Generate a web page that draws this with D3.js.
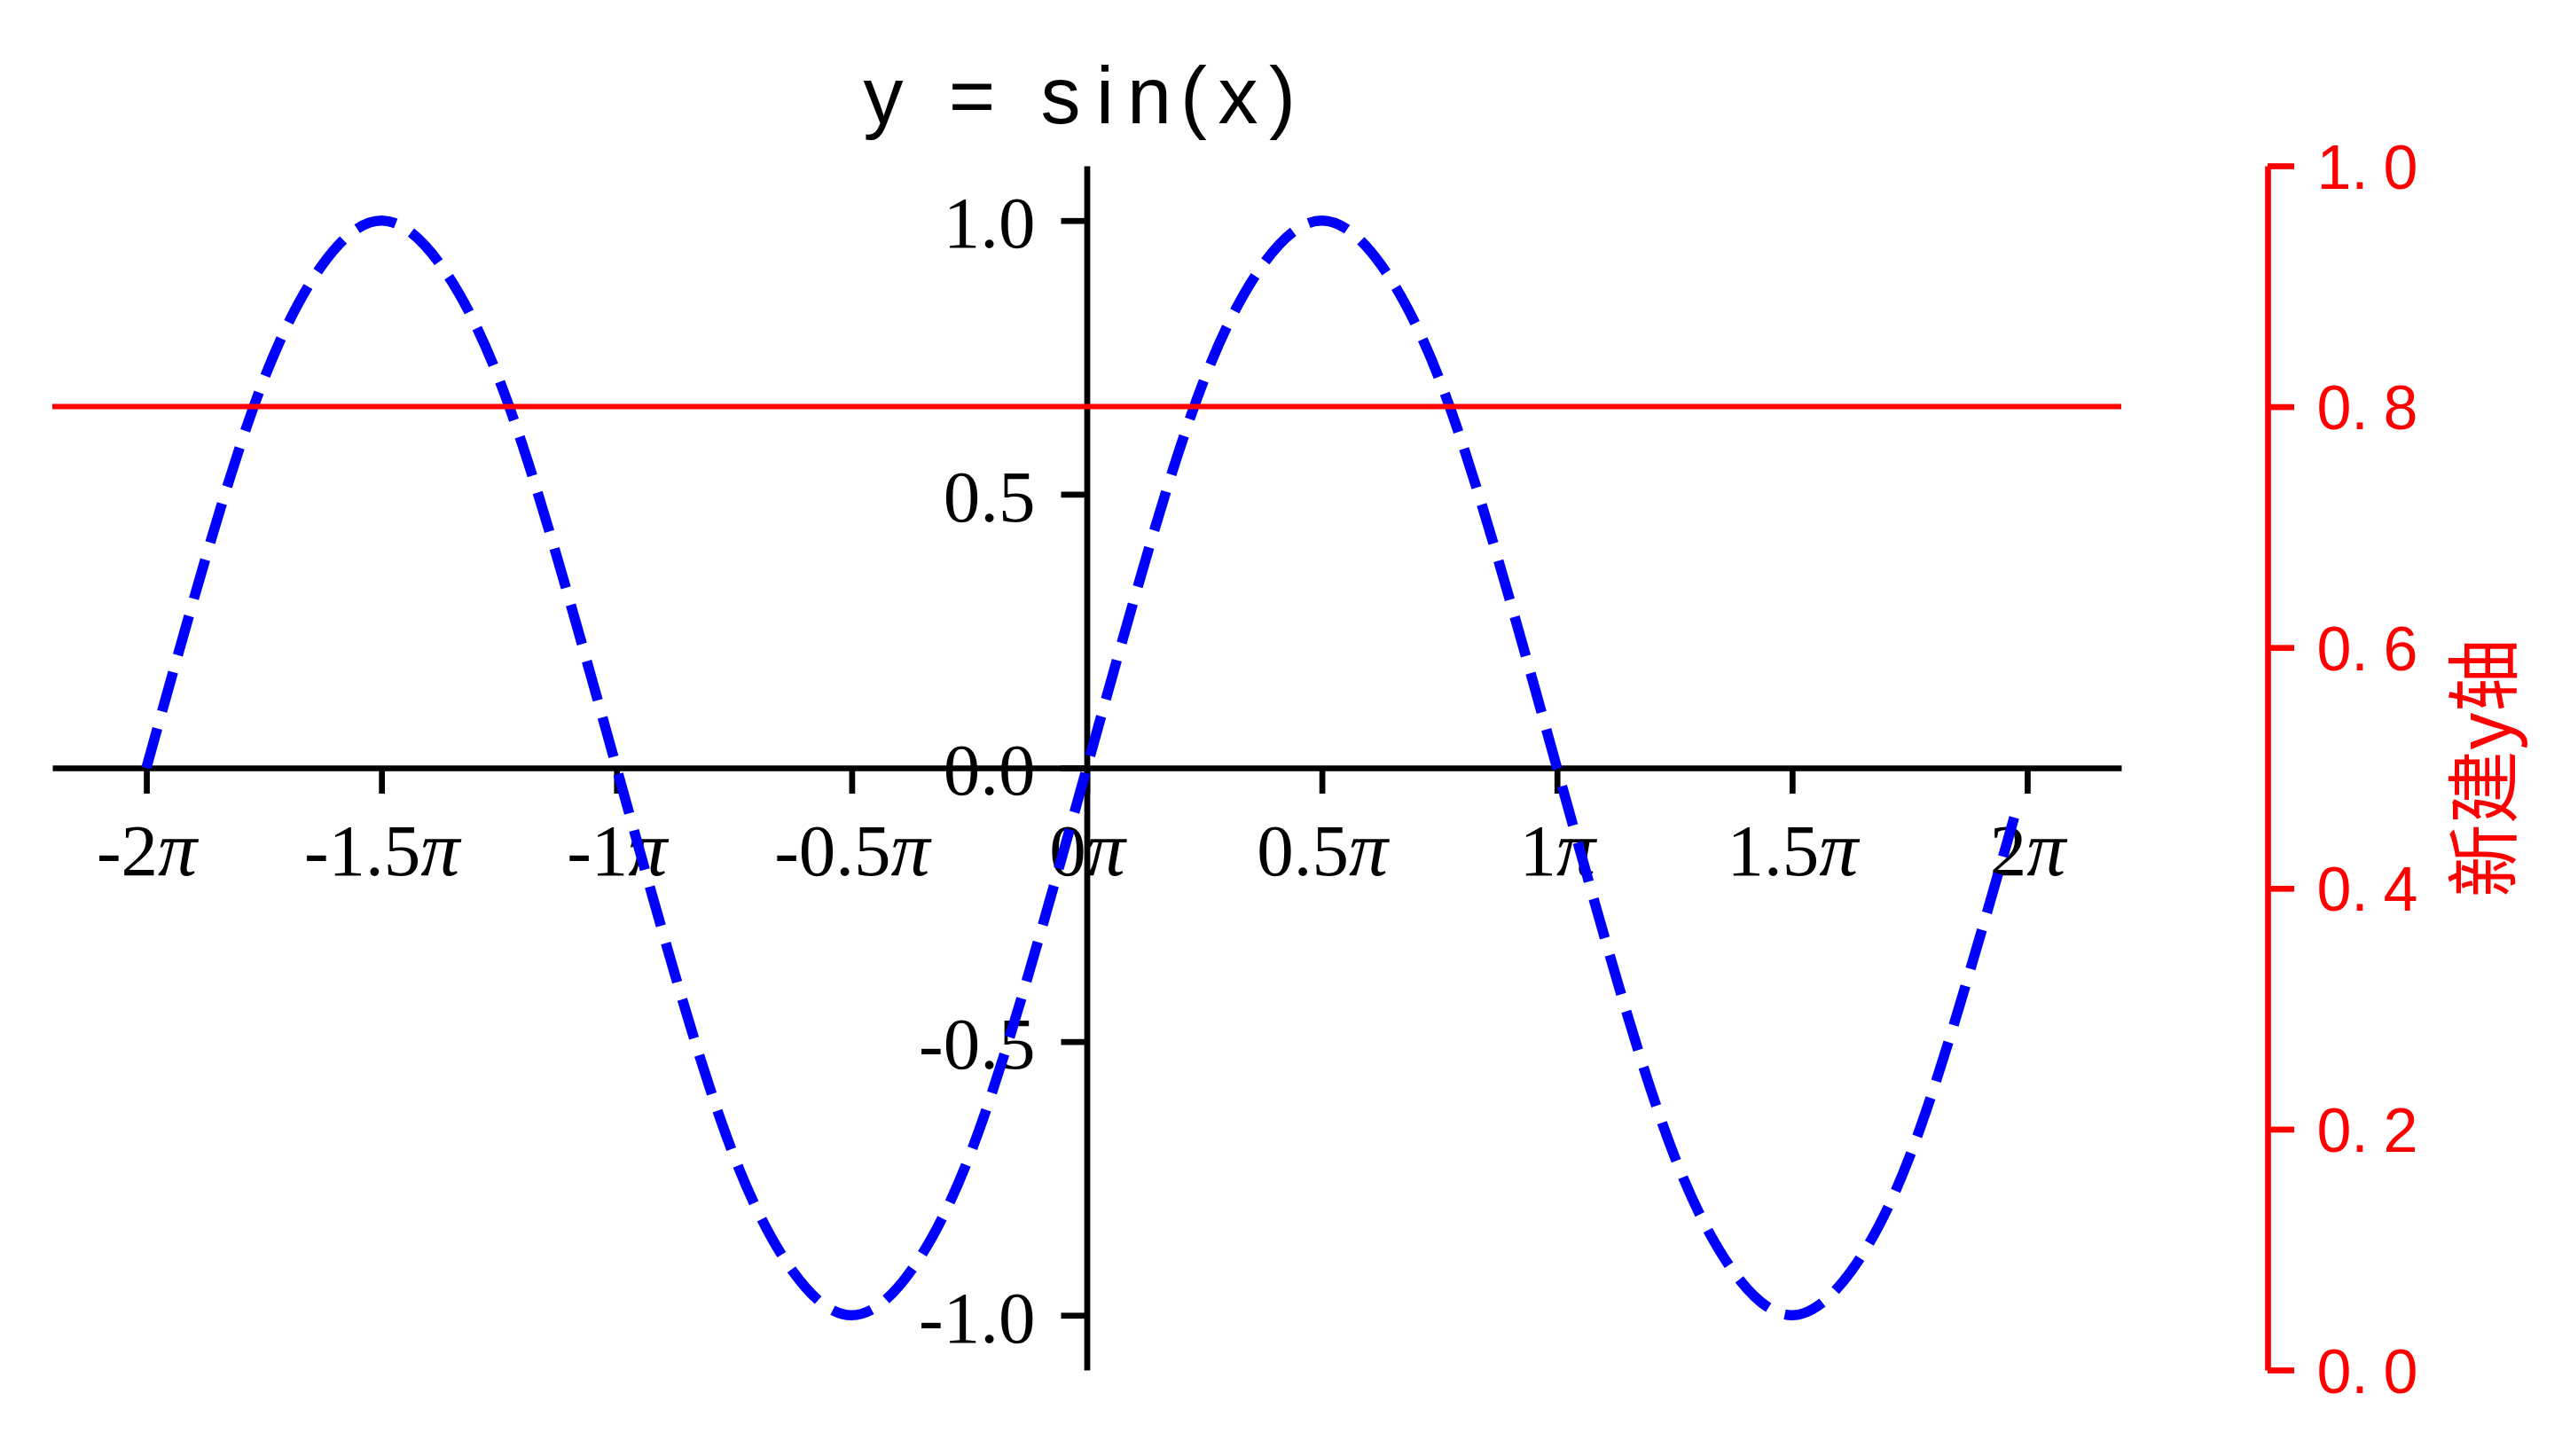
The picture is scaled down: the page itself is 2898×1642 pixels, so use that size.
<!DOCTYPE html>
<html>
<head>
<meta charset="utf-8">
<script src="https://cdn.jsdelivr.net/npm/d3@7"></script>
<style>
  html, body { margin: 0; padding: 0; background: #fff; }
</style>
</head>
<body>
<script>
// ---------------- data ----------------
const titleText = "y = sin(x)";
const rightLabel = "新建y轴";

// x positions in units of π, y values
const curveXPi = [-2, -1.875, -1.75, -1.625, -1.5, -1.375, -1.25, -1.125, -1,
                  -0.875, -0.75, -0.625, -0.5, -0.375, -0.25, -0.125, 0,
                  0.125, 0.25, 0.375, 0.5, 0.625, 0.75, 0.875, 1,
                  1.125, 1.25, 1.375, 1.5, 1.625, 1.75, 1.875, 1.979];
const curveY   = [0, 0.38, 0.71, 0.92, 1.0, 0.92, 0.71, 0.38, 0,
                  -0.38, -0.71, -0.92, -1.0, -0.92, -0.71, -0.38, 0,
                  0.38, 0.71, 0.92, 1.0, 0.92, 0.71, 0.38, 0,
                  -0.38, -0.71, -0.92, -1.0, -0.92, -0.71, -0.38, -0.07];

const xTickValues = [-2, -1.5, -1, -0.5, 0, 0.5, 1, 1.5, 2];
const xTickLabels = ["-2", "-1.5", "-1", "-0.5", "0", "0.5", "1", "1.5", "2"];
const yTickValues = [-1, -0.5, 0, 0.5, 1];
const yTickLabels = ["-1.0", "-0.5", "0.0", "0.5", "1.0"];
const rTickValues = [0, 0.2, 0.4, 0.6, 0.8, 1.0];
const rTickLabels = ["0.0", "0.2", "0.4", "0.6", "0.8", "1.0"];
const redLineValue = [0.8];

// ---------------- layout ----------------
const W = 2898, H = 1642;
const svg = d3.select("body").append("svg")
  .attr("width", W).attr("height", H)
  .style("display", "block").style("background", "#fff");

const x  = d3.scaleLinear().domain([-2.2, 2.2]).range([59, 2392]);
const y  = d3.scaleLinear().domain([-1.1, 1.1]).range([1545, 187]);
const yR = d3.scaleLinear().domain([0, 1]).range([1545, 187]);

const SPINE = 6.7;

// bottom axis (at y = 0)
const gx = svg.append("g")
  .attr("transform", `translate(0,${y(0)})`)
  .call(d3.axisBottom(x).tickValues(xTickValues).tickSize(29).tickSizeOuter(0).tickFormat(() => ""));
gx.attr("font-family", "'Liberation Serif', 'Times New Roman', serif").attr("font-size", 83);
gx.select(".domain").attr("stroke", "#000").attr("stroke-width", SPINE);
gx.selectAll(".tick line").attr("stroke", "#000").attr("stroke-width", SPINE);
gx.selectAll(".tick text")
  .attr("y", 121).attr("dy", null).attr("fill", "#000")
  .each(function(d, i) {
    const t = d3.select(this);
    t.text(null);
    t.append("tspan").text(xTickLabels[i]);
    t.append("tspan").attr("font-style", "italic").attr("font-size", 88).text("π");
  });

// left axis (at x = 0)
const gy = svg.append("g")
  .attr("transform", `translate(${x(0)},0)`)
  .call(d3.axisLeft(y).tickValues(yTickValues).tickSize(29).tickPadding(29).tickSizeOuter(0)
        .tickFormat((d, i) => yTickLabels[i]));
gy.attr("font-family", "'Liberation Serif', 'Times New Roman', serif").attr("font-size", 83);
gy.select(".domain").attr("stroke", "#000").attr("stroke-width", SPINE);
gy.selectAll(".tick line").attr("stroke", "#000").attr("stroke-width", SPINE);
gy.selectAll(".tick text").attr("dy", "0.36em").attr("fill", "#000");

// blue dashed curve
const line = d3.line()
  .x((d, i) => x(curveXPi[i]))
  .y((d, i) => y(curveY[i]))
  .curve(d3.curveNatural);
svg.append("path")
  .datum(curveY)
  .attr("d", line)
  .attr("fill", "none")
  .attr("stroke", "#0000ff")
  .attr("stroke-width", 11.5)
  .attr("stroke-dasharray", "46,20")
  .attr("stroke-linecap", "butt");

// red horizontal line on the twin axis
svg.selectAll(".redline").data(redLineValue).enter().append("line")
  .attr("class", "redline")
  .attr("x1", x.range()[0]).attr("x2", x.range()[1])
  .attr("y1", d => yR(d)).attr("y2", d => yR(d))
  .attr("stroke", "#ff0000").attr("stroke-width", 6);

// right red axis (offset outward)
const gr = svg.append("g")
  .attr("transform", "translate(2557,0)")
  .call(d3.axisRight(yR).tickValues(rTickValues).tickSize(30).tickSizeOuter(0)
        .tickFormat((d, i) => rTickLabels[i]));
gr.attr("font-family", "'Liberation Sans', Arial, sans-serif").attr("font-size", 70);
gr.select(".domain").attr("stroke", "#ff0000").attr("stroke-width", SPINE);
gr.selectAll(".tick line").attr("stroke", "#ff0000").attr("stroke-width", SPINE);
gr.selectAll(".tick text")
  .attr("fill", "#ff0000")
  .attr("text-anchor", "middle")
  .attr("x", "75 104 150")
  .attr("y", 25)
  .attr("dy", null);

// right axis label
svg.append("text")
  .attr("transform", "translate(2831,866) rotate(-90)")
  .attr("text-anchor", "middle")
  .attr("font-family", "'Noto Sans CJK SC', sans-serif")
  .attr("font-size", 83)
  .attr("fill", "#ff0000")
  .text(rightLabel);

// title (half-width monospaced look)
const titleCenters = d3.range(titleText.length).map(i => 996 + 50 * i);
svg.append("text")
  .attr("x", titleCenters.join(" "))
  .attr("y", 139)
  .attr("text-anchor", "middle")
  .attr("font-family", "'Liberation Sans', Arial, sans-serif")
  .attr("font-size", 90)
  .attr("fill", "#000")
  .text(titleText);
</script>
</body>
</html>
